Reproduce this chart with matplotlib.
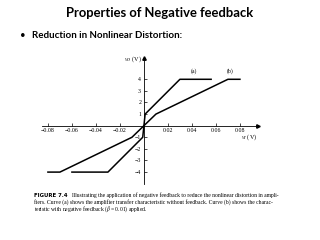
import matplotlib
matplotlib.use('Agg')
import matplotlib.pyplot as plt

# transfer characteristics
vi_a = [-0.06, -0.03, -0.001, 0.001, 0.03, 0.056]
vo_a = [-4, -4, -1, 1, 4, 4]
vi_b = [-0.08, -0.07, -0.01, 0.01, 0.07, 0.08]
vo_b = [-4, -4, -1, 1, 4, 4]

x_ticks = [-0.08, -0.06, -0.04, -0.02, 0.02, 0.04, 0.06, 0.08]
x_tick_labels = ['\u22120.08', '\u22120.06', '\u22120.04', '\u22120.02', '0.02', '0.04', '0.06', '0.08']
y_ticks = [-4, -3, -2, -1, 1, 2, 3, 4]
y_tick_labels = ['\u22124', '\u22123', '\u22122', '\u22121', '1', '2', '3', '4']

title = 'Properties of Negative feedback'
bullet = 'Reduction in Nonlinear Distortion:'
caption = ['Illustrating the application of negative feedback to reduce the nonlinear distortion in ampli-',
           'fiers. Curve (a) shows the amplifier transfer characteristic without feedback. Curve (b) shows the charac-',
           'teristic with negative feedback ($\\beta$ = 0.01) applied.']

plt.rcParams['mathtext.fontset'] = 'stix'

fig = plt.figure(figsize=(3.2, 2.4), dpi=100)
fig.patch.set_facecolor('white')

fig.text(0.5, 0.945, title, ha='center', va='center', fontsize=9.4,
         fontweight='bold', family='Lato')
fig.text(0.063, 0.852, '\u2022', ha='left', va='center', fontsize=7, family='Lato')
fig.text(0.1, 0.852, bullet, ha='left', va='center', fontsize=7,
         fontweight='bold', family='Lato')

ax = fig.add_axes([0.131, 0.2346, 0.675, 0.522])
ax.set_xlim(-0.085, 0.095)
ax.set_ylim(-5, 5.8)
ax.patch.set_alpha(0)

ax.spines['left'].set_position('zero')
ax.spines['bottom'].set_position('zero')
ax.spines['right'].set_visible(False)
ax.spines['top'].set_visible(False)
for s in ['left', 'bottom']:
    ax.spines[s].set_linewidth(0.6)

ax.plot(1, 0, '>', color='black', ms=2.5, transform=ax.get_yaxis_transform(), clip_on=False)
ax.plot(0, 1, '^', color='black', ms=2.5, transform=ax.get_xaxis_transform(), clip_on=False)

ax.set_xticks(x_ticks)
ax.set_xticklabels(x_tick_labels, family='Liberation Serif', fontsize=4.2)
ax.set_yticks(y_ticks)
ax.set_yticklabels(y_tick_labels, family='Liberation Serif', fontsize=4.2)
ax.tick_params(axis='x', direction='in', length=2.5, width=0.5, pad=1.5)
ax.tick_params(axis='y', direction='in', length=2.5, width=0.5, pad=2)

ax.plot(vi_a, vo_a, color='black', lw=1.1)
ax.plot(vi_b, vo_b, color='black', lw=1.1)

ax.text(0.042, 4.7, '(a)', ha='center', va='center', fontsize=4.2, family='Liberation Serif')
ax.text(0.072, 4.7, '(b)', ha='center', va='center', fontsize=4.2, family='Liberation Serif')
ax.text(-0.002, 5.75, '$v_O$ (V)', ha='right', va='center', fontsize=4.4, family='Liberation Serif')
ax.text(0.088, -0.95, '$v_I$ (V)', ha='center', va='center', fontsize=4.4, family='Liberation Serif')

fig.text(0.106, 0.187, 'FIGURE 7.4', ha='left', va='center', fontsize=3.9,
         fontweight='bold', family='DejaVu Sans')
fig.text(0.225, 0.187, caption[0], ha='left', va='center', fontsize=4.1, family='Liberation Serif')
fig.text(0.106, 0.158, caption[1], ha='left', va='center', fontsize=4.1, family='Liberation Serif')
fig.text(0.106, 0.129, caption[2], ha='left', va='center', fontsize=4.1, family='Liberation Serif')

fig.savefig('out.png', dpi=100, facecolor='white')
